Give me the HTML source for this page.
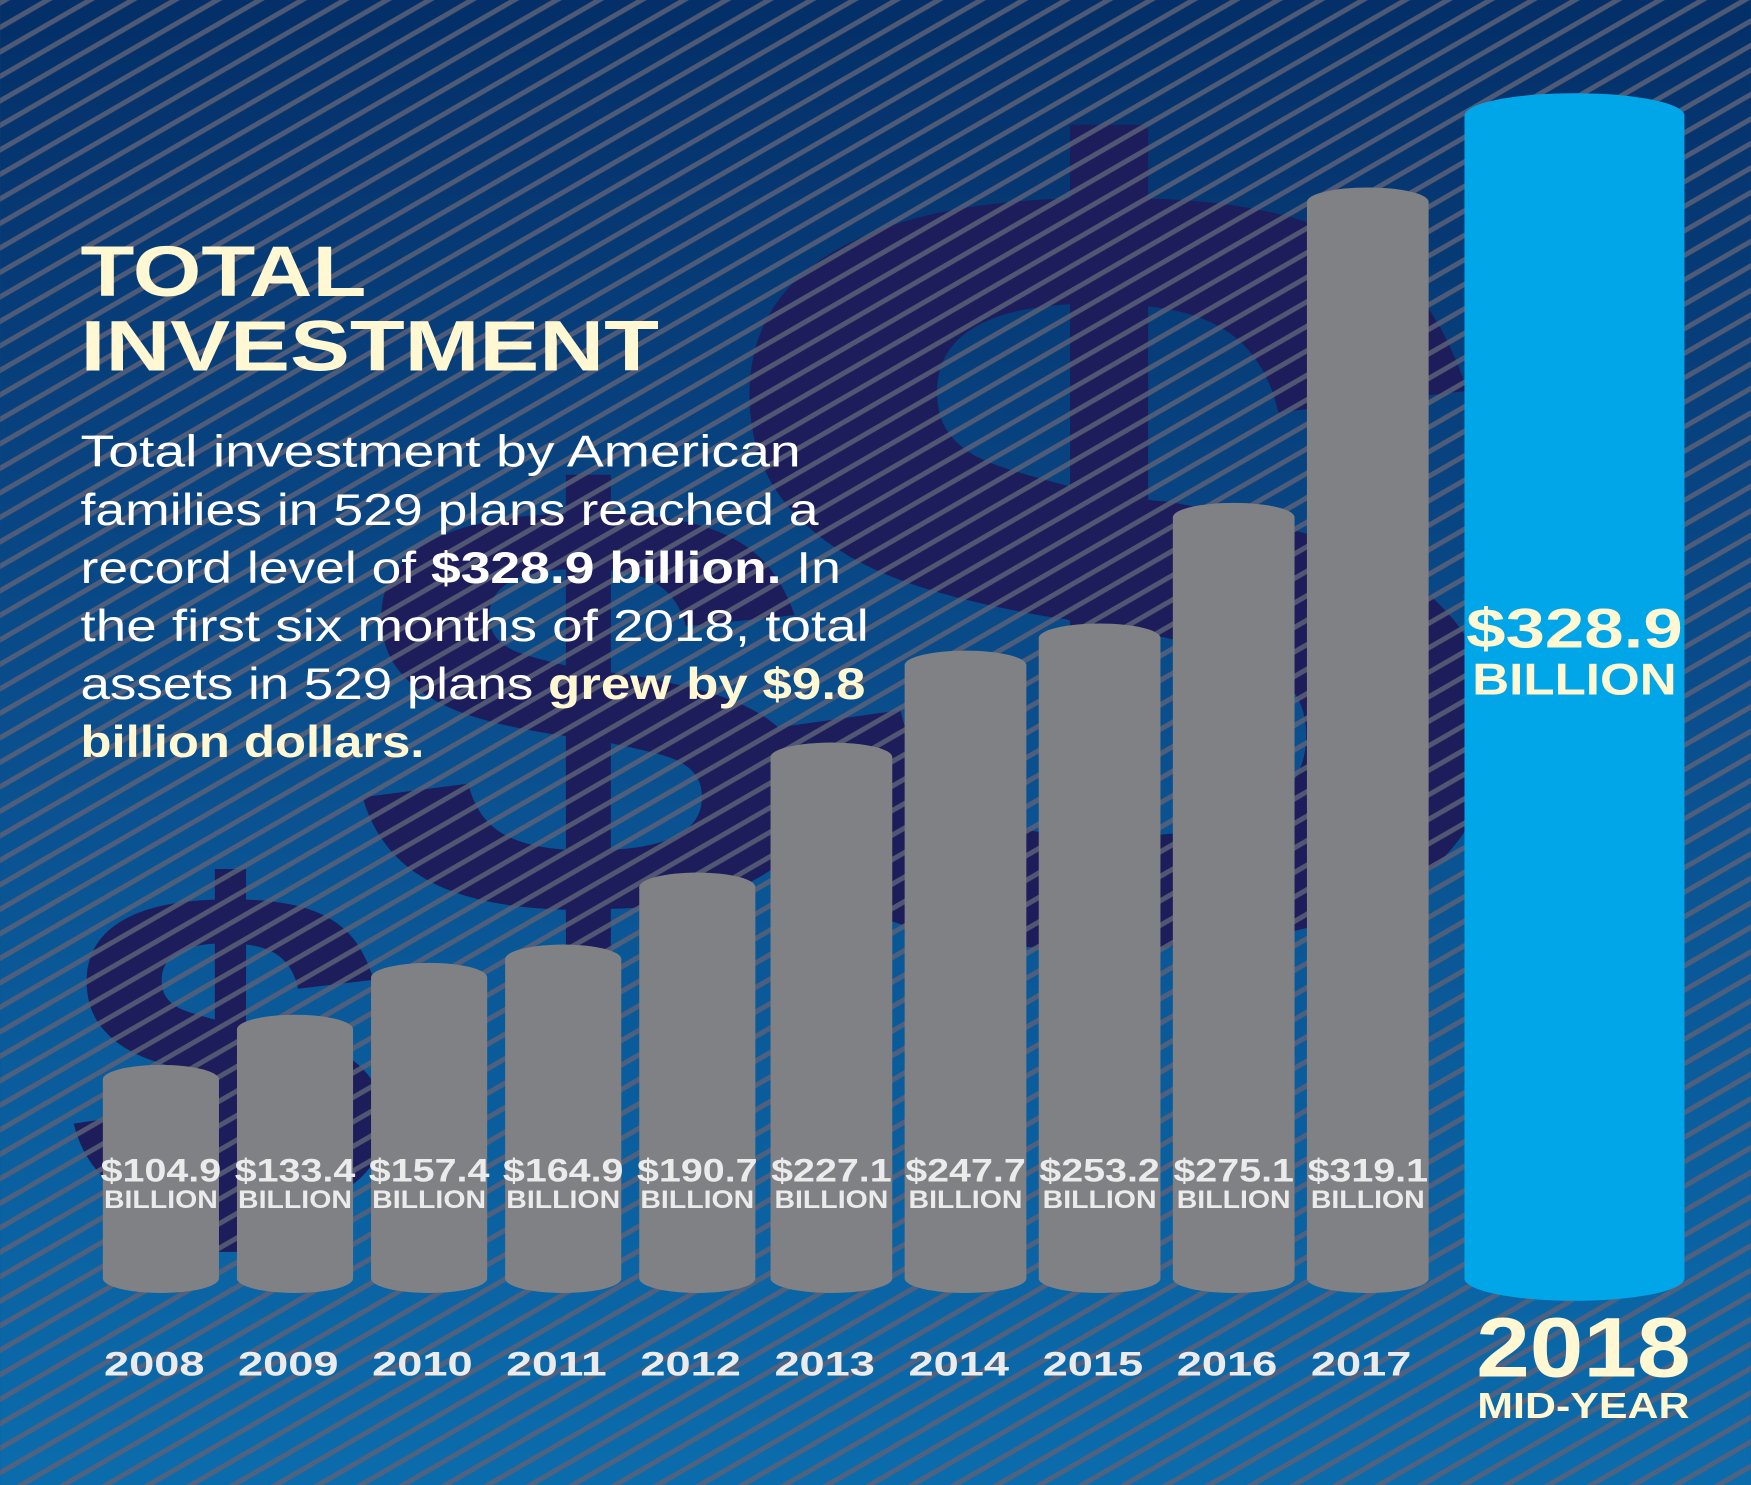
<!DOCTYPE html>
<html><head><meta charset="utf-8"><style>
html,body{margin:0;padding:0;background:#0b4f8a}
svg{display:block}
text{font-family:"Liberation Sans","DejaVu Sans",sans-serif}
</style></head><body>
<svg id="chart" width="1751" height="1485" viewBox="0 0 1568 1330" xmlns="http://www.w3.org/2000/svg">
<defs>
<linearGradient id="bg" x1="0" y1="0" x2="0" y2="1">
<stop offset="0" stop-color="#042f68"/><stop offset="0.5" stop-color="#0a4f8e"/><stop offset="1" stop-color="#0b6cac"/>
</linearGradient>
<pattern id="stripes" patternUnits="userSpaceOnUse" width="19" height="19" patternTransform="rotate(-30)">
<rect x="0" y="0" width="19" height="4.5" fill="#5a6078" opacity="0.85"/>
</pattern>
</defs>
<rect width="1568" height="1330" fill="url(#bg)"/>
<g fill="#1c1d5a" font-weight="bold" text-anchor="middle">
<text transform="translate(990 860) scale(1.25 0.96)" x="0" y="0" font-size="1050">$</text>
<text transform="translate(525 820) scale(1.35 0.95)" x="0" y="0" font-size="560">$</text>
<text transform="translate(205 1090) scale(1.25 1)" x="0" y="0" font-size="420">$</text>
</g>
<rect width="1568" height="1330" fill="url(#stripes)"/>
<g fill="#fff8d2" font-weight="900" font-size="64">
<text x="72" y="265" textLength="256" lengthAdjust="spacingAndGlyphs">TOTAL</text>
<text x="72" y="332" textLength="518" lengthAdjust="spacingAndGlyphs">INVESTMENT</text>
</g>
<g fill="#ffffff" font-size="40">
<text x="72" y="418" textLength="645" lengthAdjust="spacingAndGlyphs">Total investment by American</text>
<text x="72" y="470" textLength="661" lengthAdjust="spacingAndGlyphs">families in 529 plans reached a</text>
<text x="72" y="522" textLength="681" lengthAdjust="spacingAndGlyphs">record level of <tspan font-weight="bold">$328.9 billion.</tspan> In</text>
<text x="72" y="574" textLength="706" lengthAdjust="spacingAndGlyphs">the first six months of 2018, total</text>
<text x="72" y="626" textLength="703" lengthAdjust="spacingAndGlyphs">assets in 529 plans <tspan font-weight="bold" fill="#fff8d2">grew by $9.8</tspan></text>
<text x="72" y="678" font-weight="bold" fill="#fff8d2" textLength="308" lengthAdjust="spacingAndGlyphs">billion dollars.</text>
</g>
<g id="bars"></g>
</svg>
<script>
const years = ["2008","2009","2010","2011","2012","2013","2014","2015","2016","2017","2018"];
const values = [104.9,133.4,157.4,164.9,190.7,227.1,247.7,253.2,275.1,319.1,328.9];
const valueLabels = ["$104.9","$133.4","$157.4","$164.9","$190.7","$227.1","$247.7","$253.2","$275.1","$319.1","$328.9"];
const NS="http://www.w3.org/2000/svg";
const g=document.getElementById('bars');
const base=1145;
function yScale(v){ return base - 78*Math.exp(0.00788*v); }
function xCenter(i){ return i<10 ? 144 + i*120.1 : 1410; }
function mk(tag,attrs){const e=document.createElementNS(NS,tag);for(const k in attrs)e.setAttribute(k,attrs[k]);return e;}
years.forEach((yr,i)=>{
  const last=i===10;
  const w= last?197:(i<5?104:109);
  const cx=xCenter(i), top=yScale(values[i]), ry= last?20:13;
  const col= last?"#00a6e8":"#808184";
  const grp=mk('g',{});
  
  
  grp.appendChild(mk('rect',{x:cx-w/2,y:top,width:w,height:base-top,fill:col}));
  grp.appendChild(mk('ellipse',{cx:cx,cy:top,rx:w/2,ry:ry,fill:col}));
  grp.appendChild(mk('ellipse',{cx:cx,cy:base,rx:w/2,ry:ry,fill:col}));
  g.appendChild(grp);
  const lbl=mk('text',{x:cx,"text-anchor":"middle","font-weight":"900",fill:last?"#fff8d2":"#ebebeb",lengthAdjust:"spacingAndGlyphs"});
  
  
  const b=mk('text',{x:cx,"text-anchor":"middle","font-weight":"900",fill:last?"#fff8d2":"#ebebeb",lengthAdjust:"spacingAndGlyphs"});
  
  
  b.textContent="BILLION";
  if(last){
    lbl.setAttribute('y',580);lbl.setAttribute('font-size',50);lbl.setAttribute('textLength',194);
    b.setAttribute('y',622);b.setAttribute('font-size',40);b.setAttribute('textLength',183);
  } else {
    lbl.setAttribute('y',1058);lbl.setAttribute('font-size',29);lbl.setAttribute('textLength',108);
    b.setAttribute('y',1082);b.setAttribute('font-size',22);b.setAttribute('textLength',102);
  }
  lbl.textContent=valueLabels[i];
  g.appendChild(lbl);g.appendChild(b);
  const yl=mk('text',{x:last?cx+8:cx-6,"text-anchor":"middle","font-weight":"900",fill:last?"#fff8d2":"#ebebeb",lengthAdjust:"spacingAndGlyphs"});
  
  
  if(last){yl.setAttribute('y',1233);yl.setAttribute('font-size',76);yl.setAttribute('textLength',192);}
  else{yl.setAttribute('y',1232);yl.setAttribute('font-size',31);yl.setAttribute('textLength',90);}
  yl.textContent=yr;g.appendChild(yl);
  if(last){
    const m=mk('text',{x:cx+8,y:1270,"text-anchor":"middle","font-weight":"900","font-size":32,fill:"#fff8d2",textLength:190,lengthAdjust:"spacingAndGlyphs"});
    
    
    m.textContent="MID-YEAR";g.appendChild(m);
  }
});
</script>
</body></html>
